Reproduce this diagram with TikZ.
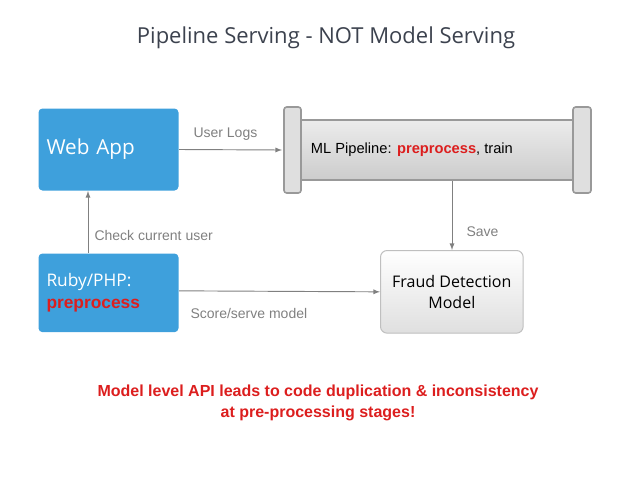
\documentclass[tikz,border=0pt]{standalone}
\usepackage{fontspec}
\setmainfont{Liberation Sans}
\newfontfamily\titlefont{Open Sans}
\usetikzlibrary{positioning}
\definecolor{appblue}{RGB}{62,160,220}
\definecolor{lbl}{RGB}{128,128,128}
\definecolor{alert}{RGB}{220,30,30}
\definecolor{titlegray}{RGB}{60,66,78}
\tikzset{every picture/.style={line width=0.75pt}}
\tikzset{
  appbox/.style={fill=appblue, rounded corners=3pt, text=white, inner xsep=6pt},
  lbltext/.style={text=lbl, font=\fontsize{10.5}{12}\selectfont, inner sep=0.75pt},
  conn/.style={draw=lbl, -latex, line width=0.7pt},
  flange/.style={draw=gray!80, fill=gray!25, line width=1.2pt, rounded corners=2pt}
}
\begin{document}
\begin{tikzpicture}[x=0.75pt,y=0.75pt,yscale=-1,xscale=1]
\useasboundingbox (0,0) rectangle (638,479);

% title
\node (title) at (326,38) {\titlefont\fontsize{16.5}{19}\selectfont\color{titlegray} Pipeline Serving - NOT Model Serving};

% pipe
\draw [draw=gray!80, line width=1.2pt, top color=gray!15, bottom color=gray!40] (292,120) rectangle (582,180);
\draw [flange] (284,107) rectangle (301,193);
\draw [flange] (573,107) rectangle (591,193);
\node (pipe) [anchor=west, font=\fontsize{11}{13}\selectfont] at (306,150) {ML Pipeline: \textcolor{alert}{\textbf{preprocess}}, train};
\coordinate (pipeIn) at (282,150);
\coordinate (pipeOut) at (452,181);

% boxes
\node (web) [appbox, minimum width=105pt, minimum height=61.5pt, anchor=north west, text width=93pt, align=left, font=\titlefont\fontsize{15.5}{18}\selectfont] at (38,108) {Web App};
\node (ruby) [appbox, minimum width=105pt, minimum height=59pt, anchor=north west, text width=93pt, align=left, font=\titlefont\fontsize{13}{16}\selectfont] at (38,253) {Ruby/PHP:\\\textcolor{alert}{\rmfamily\bfseries\fontsize{13}{16}\selectfont preprocess}};
\node (fraud) [draw=gray!50, top color=white, bottom color=gray!25, rounded corners=5pt, minimum width=107pt, minimum height=62pt, anchor=north west, align=center, font=\titlefont\fontsize{12}{16}\selectfont] at (380,250) {Fraud Detection\\Model};

% connectors
\draw [conn] (web.east) -- (pipeIn);
\draw [conn] (pipeOut) -- (fraud.north -| pipeOut);
\draw [conn] (ruby.north -| 88,0) -- (web.south -| 88,0);
\draw [conn] (ruby.east) ++(0,-2) -- (fraud.west);

% labels
\node (ulog) [lbltext, anchor=west] at (192,134) {User Logs};
\node (save) [lbltext, anchor=west] at (465,232) {Save};
\node (check) [lbltext, anchor=west] at (93,235) {Check current user};
\node (score) [lbltext, anchor=west] at (189,313) {Score/serve model};

% warning
\node (warn) [align=center, text=alert, font=\bfseries\fontsize{12}{16}\selectfont] at (318,403) {Model level API leads to code duplication \& inconsistency\\at pre-processing stages!};
\end{tikzpicture}
\end{document}
